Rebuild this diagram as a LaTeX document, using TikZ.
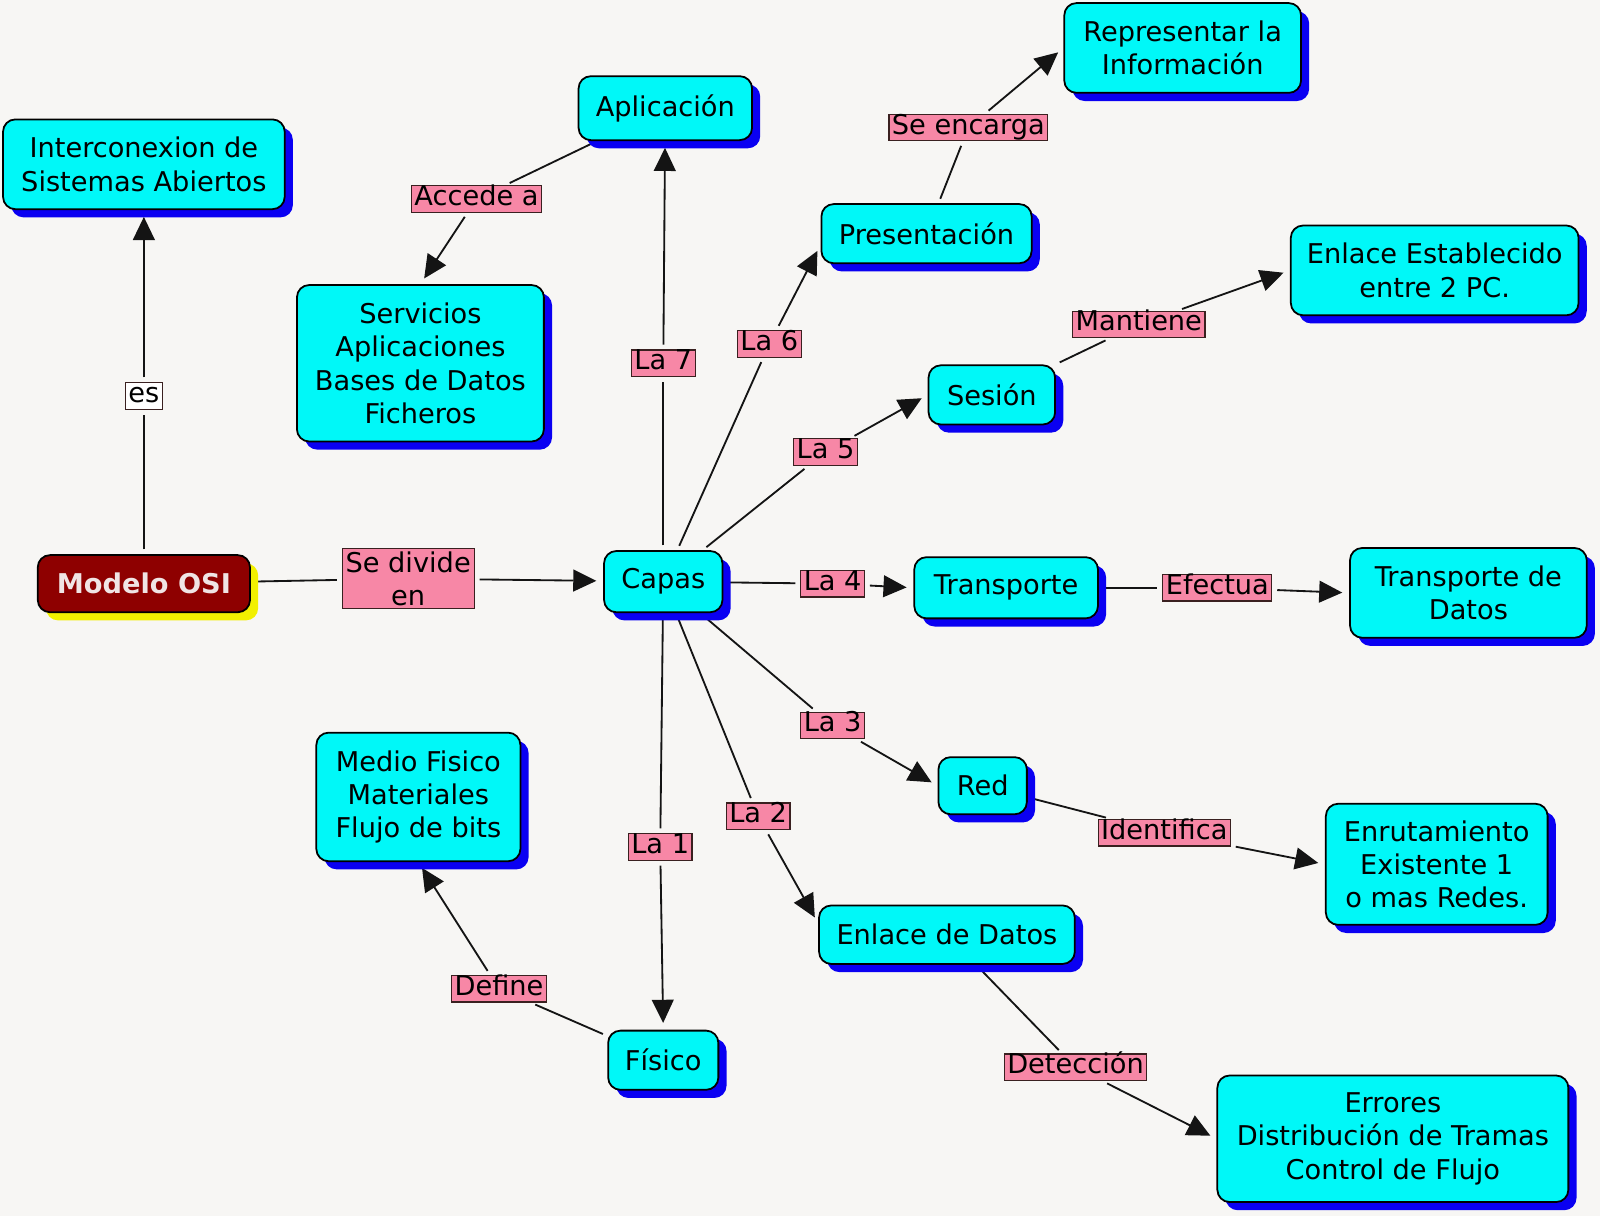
\documentclass[tikz,border=0pt]{standalone}
\usepackage{fontspec}
\setmainfont{DejaVu Sans}
\usetikzlibrary{shadows,arrows.meta}
\definecolor{bgc}{HTML}{F7F6F4}
\definecolor{cy}{HTML}{00F8F8}
\definecolor{sh}{HTML}{0A00F2}
\definecolor{pk}{HTML}{F787A6}
\definecolor{dred}{HTML}{8E0000}
\definecolor{yel}{HTML}{F2F000}
\definecolor{lb}{HTML}{3A2020}
\definecolor{osit}{HTML}{F0E4E4}
\pgfdeclarelayer{bottom}
\pgfdeclarelayer{links}
\pgfsetlayers{bottom,links,main}
\tikzset{
 basebox/.style={draw=black, line width=1.3pt, rounded corners=9pt, align=center, inner sep=0pt, font=\fontsize{20}{24.5}\selectfont},
 concept/.style={basebox, fill=cy, drop shadow={shadow xshift=6pt, shadow yshift=-6pt, fill=sh, opacity=1}},
 rootbox/.style={basebox, fill=dred, text=osit, font=\fontsize{20}{24.5}\selectfont\bfseries, drop shadow={shadow xshift=6pt, shadow yshift=-6pt, fill=yel, opacity=1}},
 labbase/.style={draw=lb, line width=0.9pt, fill=pk, inner xsep=2.2pt, inner ysep=0.5pt, font=\fontsize{20}{24.5}\selectfont, align=center},
 lab/.style={labbase, text height=14pt, text depth=4.5pt},
 ln/.style={line width=1.35pt, draw=black!92, shorten <=3.5pt, shorten >=3.5pt},
 ar/.style={ln, -{Triangle[length=17pt,width=16pt]}, shorten >=5pt},
}
\begin{document}
\begin{tikzpicture}[x=0.75pt,y=-0.75pt]
\begin{pgfonlayer}{bottom}
\fill[bgc] (0,0) rectangle (1568,1192);
\end{pgfonlayer}
\useasboundingbox (0,0) rectangle (1568,1192);

% concepts
\node[concept, minimum width=207pt, minimum height=66pt] (inter) at (141,161) {Interconexion de\\Sistemas Abiertos};
\node[rootbox, minimum width=156pt, minimum height=42pt] (osi) at (141,572) {Modelo OSI};
\node[concept, minimum width=127.5pt, minimum height=47pt] (apl) at (652,106) {Aplicación};
\node[concept, minimum width=181.5pt, minimum height=115pt] (serv) at (412,356) {Servicios\\Aplicaciones\\Bases de Datos\\Ficheros};
\node[concept, minimum width=154.5pt, minimum height=43.5pt] (pres) at (908,229) {Presentación};
\node[concept, minimum width=174pt, minimum height=66pt] (repr) at (1159,47) {Representar la\\Información};
\node[concept, minimum width=211.5pt, minimum height=66pt] (enl) at (1406,265) {Enlace Establecido\\entre 2 PC.};
\node[concept, minimum width=93pt, minimum height=43.5pt] (ses) at (972,387) {Sesión};
\node[concept, minimum width=87pt, minimum height=45pt] (capas) at (650,570) {Capas};
\node[concept, minimum width=135pt, minimum height=45pt] (transp) at (986,576) {Transporte};
\node[concept, minimum width=174pt, minimum height=66pt] (tdat) at (1439,581) {Transporte de\\Datos};
\node[concept, minimum width=65pt, minimum height=42pt] (red) at (963,770) {Red};
\node[concept, minimum width=163pt, minimum height=89pt] (enru) at (1408,847) {Enrutamiento\\Existente 1\\o mas Redes.};
\node[concept, minimum width=150pt, minimum height=94.5pt] (medio) at (410,781) {Medio Fisico\\Materiales\\Flujo de bits};
\node[concept, minimum width=188pt, minimum height=43pt] (edat) at (928,916) {Enlace de Datos};
\node[concept, minimum width=81pt, minimum height=43.5pt] (fis) at (650,1039) {Físico};
\node[concept, minimum width=258pt, minimum height=93pt] (err) at (1365,1116) {Errores\\Distribución de Tramas\\Control de Flujo};

% link labels
\node[lab, fill=white] (les) at (141,388) {es};
\node[labbase, minimum width=97pt, minimum height=44pt, inner ysep=0pt] (lsd) at (400,567) {Se divide\\en};
\node[lab] (lac) at (467,195) {Accede a};
\node[lab] (l7) at (650,356) {La 7};
\node[lab] (l6) at (754,337) {La 6};
\node[lab] (lse) at (949,125) {Se encarga};
\node[lab] (lma) at (1116,318) {Mantiene};
\node[lab] (l5) at (809,443) {La 5};
\node[lab] (l4) at (816,572) {La 4};
\node[lab] (lef) at (1193,576) {Efectua};
\node[lab] (l3) at (816,711) {La 3};
\node[lab] (lid) at (1141,816) {Identifica};
\node[lab] (l2) at (743,800) {La 2};
\node[lab] (l1) at (647,830) {La 1};
\node[lab] (lde) at (489,969) {Define};
\node[lab] (ldt) at (1054,1046) {Detección};

% connectors
\begin{pgfonlayer}{links}
\draw[ln] (osi) -- (les); \draw[ar] (les) -- (inter);
\draw[ln] (osi) -- (lsd); \draw[ar] (lsd) -- (capas);
\draw[ln] (apl) -- (lac); \draw[ar] (lac) -- (serv.north);
\draw[ln] (capas) -- (l7); \draw[ar] (l7) -- (apl);
\draw[ln] (capas) -- (l6); \draw[ar] (l6) -- (pres.186);
\draw[ln] (pres) -- (lse); \draw[ar] (lse) -- (repr.west);
\draw[ln] (capas) -- (l5); \draw[ar] (l5) -- (ses.west);
\draw[ln] (ses) -- (lma); \draw[ar] (lma) -- (enl.west);
\draw[ln] (capas) -- (l4); \draw[ar] (l4) -- (transp.west);
\draw[ln] (transp) -- (lef); \draw[ar] (lef) -- (tdat.west);
\draw[ln] (capas) -- (l3); \draw[ar] (l3) -- (red.west);
\draw[ln] (red) -- (lid); \draw[ar] (lid) -- (enru.west);
\draw[ln] (capas) -- (l2); \draw[ar] (l2) -- (edat.175);
\draw[ln] (capas) -- (l1); \draw[ar] (l1) -- (fis.north);
\draw[ln] (fis) -- (lde); \draw[ar] (lde) -- (medio.south);
\draw[ln] (edat) -- (ldt); \draw[ar] (ldt) -- (err.west);
\end{pgfonlayer}
\end{tikzpicture}
\end{document}
